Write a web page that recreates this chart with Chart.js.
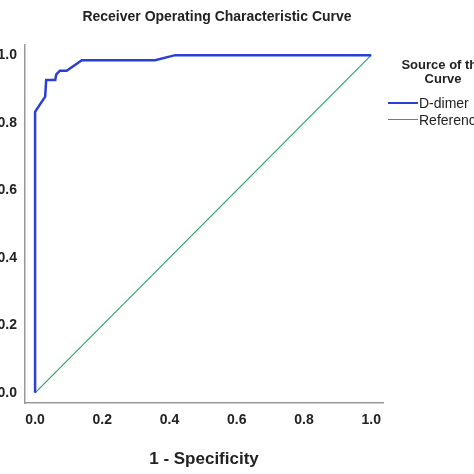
<!doctype html>
<html lang="en">
  <head>
    <meta charset="utf-8">
    <title>ROC Curve</title>
    <style>
      * { margin: 0; padding: 0; font-family: Arial, "Liberation Sans", sans-serif; }
      body { width: 474px; height: 474px; overflow: hidden; background: white; position: relative; }
      .chartBox { position: absolute; left: -16px; top: 0; width: 490px; height: 474px; }
      .title { position: absolute; top: 8px; left: 57px; width: 320px; text-align: center; font-size: 14px; font-weight: bold; color: #222; }
      .legend { position: absolute; left: 388px; top: 58px; width: 130px; font-size: 14px; color: #222; }
      .legend .lt { font-weight: bold; font-size: 13px; text-align: center; width: 110px; line-height: 14px; margin-bottom: 8px; }
      .legend .row { display: flex; align-items: center; height: 17px; }
      .legend .sw { width: 30px; height: 2px; margin-right: 1px; }
    </style>
  </head>
  <body>
    <div class="chartBox"><canvas id="myChart"></canvas></div>
    <div class="title">Receiver Operating Characteristic Curve</div>
    <div class="legend">
      <div class="lt">Source of the<br>Curve</div>
      <div class="row"><div class="sw" style="background:#2b3fd0"></div>D-dimer</div>
      <div class="row"><div class="sw" style="background:#2fa36b;height:1px"></div>Reference Line</div>
    </div>
    <script src="https://cdn.jsdelivr.net/npm/chart.js"></script>
    <script>
    // setup
    const rocX = [0, 0, 0.03, 0.033, 0.06, 0.063, 0.074, 0.094, 0.139, 0.357, 0.417, 1.0];
    const rocY = [0, 0.832, 0.877, 0.926, 0.926, 0.943, 0.954, 0.954, 0.985, 0.985, 1.0, 1.0];
    const refX = [0, 1];
    const refY = [0, 1];
    const tickVals = [0, 0.2, 0.4, 0.6, 0.8, 1.0];

    const toPts = (xs, ys) => xs.map((x, i) => ({ x, y: ys[i] }));

    const config = {
      type: 'scatter',
      data: {
        datasets: [
          { label: 'D-dimer', data: toPts(rocX, rocY), showLine: true, borderColor: '#2b3fd0', borderWidth: 2.5, pointRadius: 0, tension: 0 },
          { label: 'Reference Line', data: toPts(refX, refY), showLine: true, borderColor: '#2fa36b', borderWidth: 1.2, pointRadius: 0 }
        ]
      },
      options: {
        responsive: false,
        animation: false,
        layout: { padding: { top: 45, right: 91, left: 0, bottom: 0 } },
        plugins: { legend: { display: false }, tooltip: { enabled: false } },
        scales: {
          x: {
            type: 'linear', min: -0.03, max: 1.035,
            afterBuildTicks: s => { s.ticks = tickVals.map(v => ({ value: v })); },
            afterFit: s => { s.height = 71; },
            grid: { display: false, drawTicks: false },
            border: { color: '#999', width: 1.5 },
            ticks: { color: '#222', font: { size: 14, weight: 'bold' }, padding: 9, callback: v => v.toFixed(1) },
            title: { display: true, text: '1 - Specificity', color: '#222', font: { size: 17, weight: 'bold' }, padding: { top: 16 } }
          },
          y: {
            min: -0.03, max: 1.03,
            afterBuildTicks: s => { s.ticks = tickVals.map(v => ({ value: v })); },
            afterFit: s => { s.width = 41; },
            grid: { display: false, drawTicks: false },
            border: { color: '#999', width: 1.5 },
            ticks: { color: '#222', font: { size: 14, weight: 'bold' }, padding: 8, callback: v => v.toFixed(1) }
          }
        }
      }
    };

    const canvas = document.getElementById('myChart');
    canvas.width = 490;
    canvas.height = 474;
    const myChart = new Chart(canvas, config);
    </script>
  </body>
</html>
